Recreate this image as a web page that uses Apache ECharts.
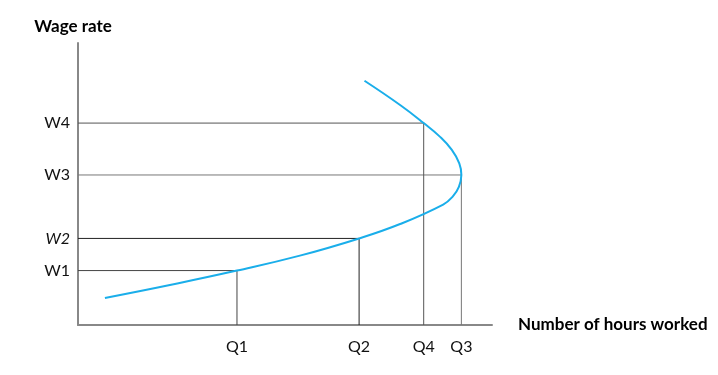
<!DOCTYPE html>
<html><head><meta charset="utf-8">
<script src="https://cdn.jsdelivr.net/npm/echarts@6/dist/echarts.min.js"></script>
<style>html,body{margin:0;padding:0;background:#fff}#c{width:718px;height:375px}</style>
</head><body><div id="c"></div>
<script>
// Supply curve (hours, wage)
const curveHours = [6.5, 22.2, 38.4, 53.6, 67.9, 77.8, 88.2, 90.5, 92.0, 92.6, 92.1, 90.3, 87.4, 83.5, 77.8, 69.2];
const curveWage  = [9.6, 14.2, 19.3, 24.6, 30.7, 35.8, 42.7, 45.5, 49.0, 53.2, 57.3, 62.1, 66.8, 71.6, 78.0, 86.6];
// Marked points
const wageLabels = ['W1', 'W2', 'W3', 'W4'];
const wageValues = [19.3, 30.7, 53.2, 71.6];
const hourLabels = ['Q1', 'Q2', 'Q3', 'Q4'];
const hourValues = [38.4, 67.9, 92.6, 83.5];
const guideColors = ['#444', '#222', '#777', '#555'];

const chart = echarts.init(document.getElementById('c'));
const font = 'Lato, "Open Sans", sans-serif';
const curveData = curveHours.map((h, i) => [h, curveWage[i]]);
const series = [{
  type: 'custom',
  data: curveData,
  encode: { x: 0, y: 1 },
  z: 5,
  renderItem: function (params, api) {
    if (params.dataIndex !== 0) return null;
    const pts = curveData.map(d => api.coord(d));
    return {
      type: 'polyline',
      shape: { points: pts, smooth: 0.45 },
      style: { stroke: '#1aaeea', lineWidth: 2, fill: null }
    };
  }
}];
wageValues.forEach((w, i) => {
  const q = hourValues[i];
  series.push({
    type: 'line',
    data: [[0, w], [q, w], [q, 0]],
    showSymbol: false,
    lineStyle: { color: guideColors[i], width: 1 },
    z: 2
  });
});
const wMap = {}; wageValues.forEach((v, i) => wMap[v] = wageLabels[i]);
const qMap = {}; hourValues.forEach((v, i) => qMap[v] = hourLabels[i]);

chart.setOption({
  animation: false,
  grid: { left: 78, top: 43, right: 226, bottom: 50 },
  xAxis: {
    type: 'value', min: 0, max: 100,
    name: 'Number of hours worked', nameLocation: 'end', nameGap: 26,
    nameTextStyle: { fontFamily: font, fontWeight: 'bold', fontSize: 17, color: '#000' },
    axisLine: { show: true, lineStyle: { color: '#888', width: 2 } },
    axisTick: { show: false },
    splitLine: { show: false },
    axisLabel: {
      customValues: hourValues, margin: 14,
      fontFamily: font, fontSize: 16, color: '#111',
      formatter: v => qMap[v] || ''
    }
  },
  yAxis: {
    type: 'value', min: 0, max: 100,
    name: 'Wage rate', nameLocation: 'end', nameGap: 8,
    nameTextStyle: { fontFamily: font, fontWeight: 'bold', fontSize: 17, color: '#000', padding: [0, 10, 0, 0] },
    axisLine: { show: true, lineStyle: { color: '#888', width: 2 } },
    axisTick: { show: false },
    splitLine: { show: false },
    axisLabel: {
      customValues: wageValues, margin: 8,
      fontFamily: font, fontSize: 16, color: '#111',
      formatter: v => { const s = wMap[v] || ''; return s === 'W2' ? '{it|' + s + '}' : s; },
      rich: { it: { fontStyle: 'italic', fontFamily: font, fontSize: 16, color: '#111' } }
    }
  },
  series: series
});
</script></body></html>
